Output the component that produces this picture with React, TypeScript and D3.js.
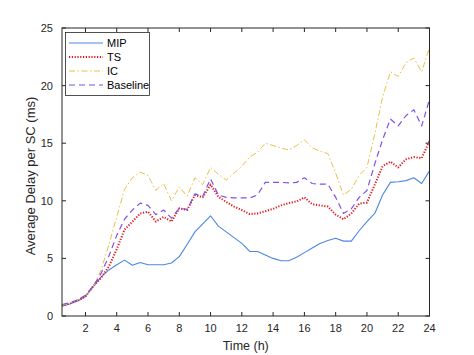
import React from "react";
import * as d3 from "d3";

const times: number[] = d3.range(0.5, 24.01, 0.5);
const mip: number[] = [0.85, 1.05, 1.3, 1.7, 2.55, 3.4, 4.0, 4.45, 4.85, 4.4, 4.65, 4.45, 4.45, 4.45, 4.6, 5.15, 6.2, 7.3, 8.0, 8.7, 7.8, 7.3, 6.8, 6.3, 5.6, 5.6, 5.3, 5.0, 4.8, 4.8, 5.1, 5.5, 5.9, 6.3, 6.55, 6.75, 6.5, 6.5, 7.4, 8.2, 8.9, 10.5, 11.6, 11.65, 11.75, 12.0, 11.5, 12.6];
const ts: number[] = [0.9, 1.1, 1.35, 1.7, 2.6, 3.3, 4.3, 5.8, 7.5, 8.2, 8.9, 9.05, 8.2, 8.6, 8.2, 9.35, 9.2, 10.5, 10.3, 11.4, 10.35, 9.9, 9.5, 9.2, 8.85, 8.9, 9.1, 9.3, 9.6, 9.8, 9.95, 10.3, 9.7, 9.6, 9.5, 8.8, 8.4, 8.9, 9.75, 9.85, 11.4, 13.0, 13.4, 12.9, 13.6, 13.8, 13.7, 15.2];
const ic: number[] = [0.95, 1.15, 1.4, 1.8, 2.5, 4.0, 6.2, 8.6, 11.0, 12.0, 12.5, 12.2, 10.9, 11.5, 10.0, 11.2, 10.4, 12.0, 11.4, 12.9, 12.3, 11.8, 12.4, 13.0, 13.8, 14.2, 15.0, 14.8, 14.6, 14.4, 14.8, 15.3, 14.6, 14.3, 14.1, 12.4, 10.5, 11.0, 12.2, 12.9, 15.8, 19.0, 21.2, 20.8, 22.0, 22.4, 21.2, 23.3];
const baseline: number[] = [1.0, 1.15, 1.4, 1.8, 2.6, 3.7, 5.2, 7.0, 8.4, 9.2, 9.8, 9.6, 8.8, 9.2, 8.5, 9.35, 9.25, 10.6, 10.4, 11.9, 10.5, 10.3, 10.25, 10.25, 10.25, 10.5, 11.6, 11.6, 11.6, 11.55, 11.6, 12.0, 11.5, 11.45, 11.45, 10.3, 8.9, 9.3, 10.3, 10.9, 13.2, 15.3, 17.1, 16.5, 17.4, 17.9, 16.5, 18.8];

const xTicks: number[] = [2, 4, 6, 8, 10, 12, 14, 16, 18, 20, 22, 24];
const yTicks: number[] = [0, 5, 10, 15, 20, 25];

const seriesNames = ["MIP", "TS", "IC", "Baseline"];

const W = 474, H = 355;
const left = 62, right = 429.5, top = 28, bottom = 316;

export default function App() {
  const x = d3.scaleLinear().domain([0.5, 24]).range([left, right]);
  const y = d3.scaleLinear().domain([0, 25]).range([bottom, top]);
  const line = (vals: number[]) =>
    d3.line<number>().x((_, i) => x(times[i])).y((v) => y(v))(vals) || "";

  const styles = [
    { data: mip, color: "#4d87e2", width: 1.1, dash: undefined as string | undefined },
    { data: ts, color: "#e3141c", width: 2, dash: "1.2 1.6" },
    { data: ic, color: "#e8bf4a", width: 1, dash: "6 2.5 1.5 2.5" },
    { data: baseline, color: "#7f52e6", width: 1.2, dash: "6 4" },
  ];
  const font = "'Liberation Sans', Arial, sans-serif";
  const tickLen = 4;
  const legY = [43, 57, 71, 85];

  return (
    <svg width={W} height={H} style={{ position: "absolute", left: 0, top: 0, background: "#fff" }}>
      <rect x={0} y={0} width={W} height={H} fill="#fff" />
      <g>
        {styles.map((s, i) => (
          <path key={i} d={line(s.data)} fill="none" stroke={s.color} strokeWidth={s.width}
            strokeDasharray={s.dash} strokeLinejoin="round" />
        ))}
      </g>
      <rect x={left} y={top} width={right - left} height={bottom - top} fill="none" stroke="#262626" strokeWidth={1} />
      {xTicks.map((t) => (
        <g key={"x" + t}>
          <line x1={x(t)} x2={x(t)} y1={bottom} y2={bottom - tickLen} stroke="#262626" />
          <line x1={x(t)} x2={x(t)} y1={top} y2={top + tickLen} stroke="#262626" />
          <text x={x(t)} y={332} textAnchor="middle" fontFamily={font} fontSize={11} fill="#262626">{t}</text>
        </g>
      ))}
      {yTicks.map((t) => (
        <g key={"y" + t}>
          <line x1={left} x2={left + tickLen} y1={y(t)} y2={y(t)} stroke="#262626" />
          <line x1={right} x2={right - tickLen} y1={y(t)} y2={y(t)} stroke="#262626" />
          <text x={53} y={y(t) + 4} textAnchor="end" fontFamily={font} fontSize={11} fill="#262626">{t}</text>
        </g>
      ))}
      <text x={(left + right) / 2} y={350} textAnchor="middle" fontFamily={font} fontSize={12.5} fill="#262626">Time (h)</text>
      <text transform={`translate(35,${(top + bottom) / 2 + 4}) rotate(-90)`} textAnchor="middle" fontFamily={font} fontSize={13} fill="#262626">Average Delay per SC (ms)</text>
      <g>
        <rect x={65.5} y={32.5} width={84} height={63} fill="#fff" stroke="#262626" strokeWidth={0.8} />
        {styles.map((s, i) => (
          <g key={"l" + i}>
            <line x1={69} x2={103} y1={legY[i]} y2={legY[i]} stroke={s.color} strokeWidth={s.width} strokeDasharray={s.dash} />
            <text x={107} y={legY[i] + 4} fontFamily={font} fontSize={11} fill="#000">{seriesNames[i]}</text>
          </g>
        ))}
      </g>
    </svg>
  );
}
